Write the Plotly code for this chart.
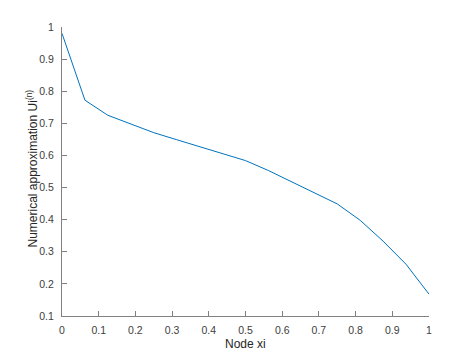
import plotly.graph_objects as go

x_nodes = [i / 16 for i in range(17)]
u_values = [0.98, 0.772, 0.725, 0.697, 0.671, 0.649, 0.628, 0.607, 0.584,
            0.553, 0.518, 0.484, 0.449, 0.398, 0.333, 0.261, 0.168]
x_ticks = [0, 0.1, 0.2, 0.3, 0.4, 0.5, 0.6, 0.7, 0.8, 0.9, 1]
x_tick_labels = ["0", "0.1", "0.2", "0.3", "0.4", "0.5", "0.6", "0.7", "0.8", "0.9", "1"]
y_ticks = [0.1, 0.2, 0.3, 0.4, 0.5, 0.6, 0.7, 0.8, 0.9, 1]
y_tick_labels = ["0.1", "0.2", "0.3", "0.4", "0.5", "0.6", "0.7", "0.8", "0.9", "1"]
x_title = "Node xi"
y_title = "Numerical approximation Ui<sup>(n)</sup>"

axis_common = dict(showgrid=False, zeroline=False, showline=True,
                   linecolor="#808080", linewidth=1, ticks="inside",
                   ticklen=5, tickcolor="#808080", mirror=False, automargin=False,
                   tickfont=dict(family="Liberation Sans, Arial", size=10.5, color="#404040"))
title_font = dict(family="Liberation Sans, Arial", size=12, color="#262626")

fig = go.Figure()
fig.add_trace(go.Scatter(x=x_nodes, y=u_values, mode="lines",
                         line=dict(color="#0072BD", width=1)))

fig.update_layout(
    width=474, height=355,
    margin=dict(l=62, r=45, t=27, b=39),
    paper_bgcolor="white", plot_bgcolor="white",
    showlegend=False,
    xaxis=dict(range=[0, 1], tickvals=x_ticks, ticktext=x_tick_labels,
               ticklabelstandoff=4, **axis_common),
    yaxis=dict(range=[0.1, 1], tickvals=y_ticks, ticktext=y_tick_labels,
               ticklabelstandoff=5, **axis_common),
    annotations=[
        dict(text=x_title, xref="paper", yref="paper", x=0.5, y=0,
             xanchor="center", yanchor="middle", yshift=-28, showarrow=False,
             font=title_font),
        dict(text=y_title, xref="paper", yref="paper", x=0, y=0.5,
             xanchor="center", yanchor="middle", xshift=-31, yshift=3, textangle=-90,
             showarrow=False, font=title_font),
    ],
)

fig.write_html("out.html")
